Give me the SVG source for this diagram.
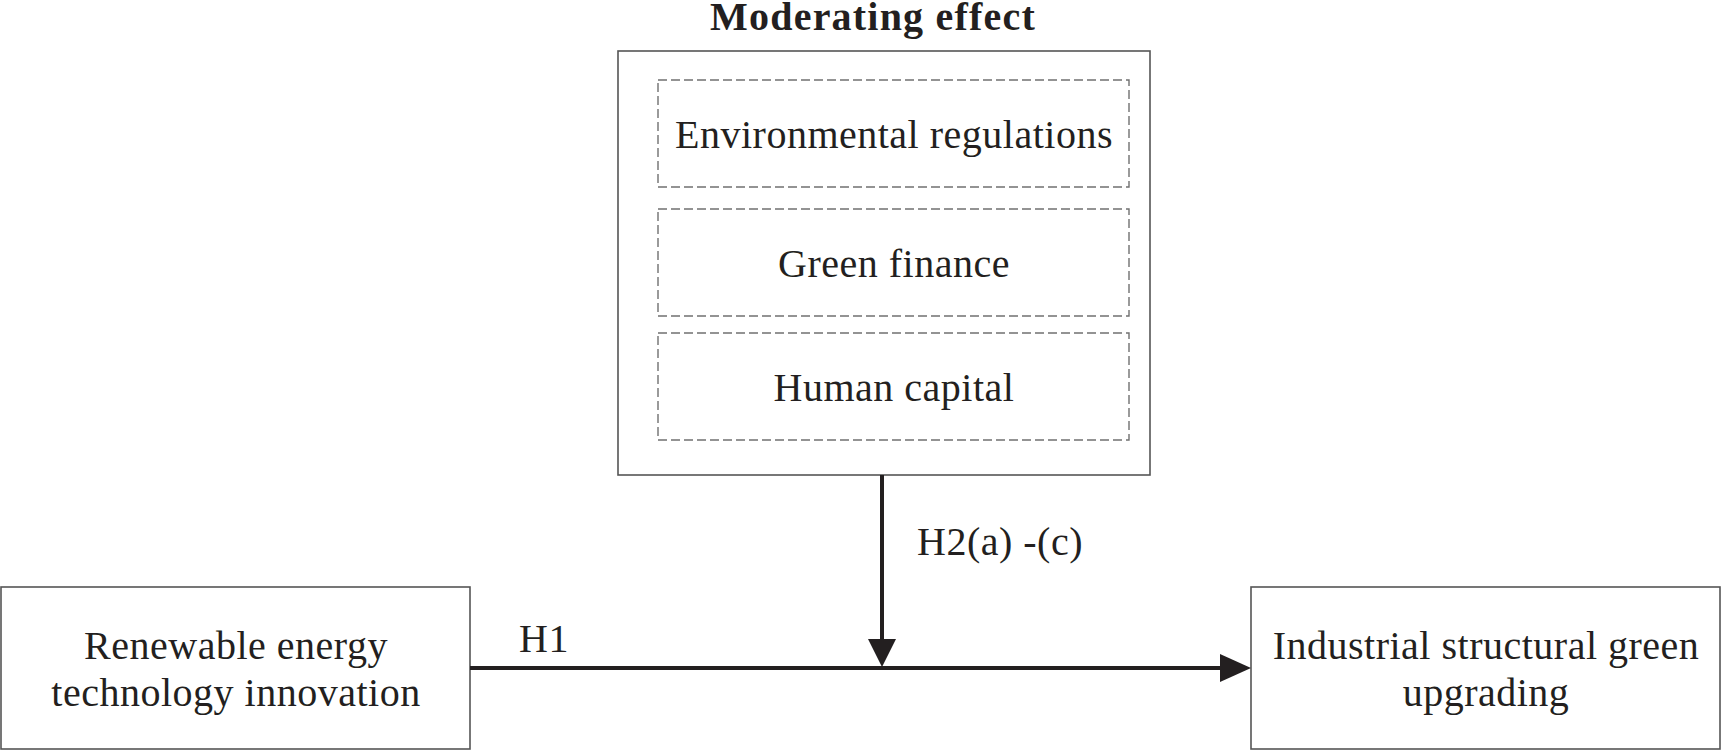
<svg xmlns="http://www.w3.org/2000/svg" width="1721" height="750" viewBox="0 0 1721 750">
<style>
  .t { font-family: "Liberation Serif", "Times New Roman", serif; font-size: 40px; letter-spacing: 0.5px; fill: #231f20; text-anchor: middle; }
  .title { font-family: "Liberation Serif", "Times New Roman", serif; font-size: 40px; font-weight: bold; letter-spacing: 1.2px; fill: #231f20; text-anchor: middle; }
  .box { fill: #ffffff; stroke: #555555; stroke-width: 1.6; }
  .dash { fill: none; stroke: #707070; stroke-width: 1.4; stroke-dasharray: 9 4; }
  .conn { stroke: #231f20; stroke-width: 4; fill: none; }
  .head { fill: #231f20; }
</style>
<rect width="1721" height="750" fill="#ffffff"/>
<g id="moderating">
  <text class="title" x="873" y="30">Moderating effect</text>
  <rect class="box" x="618" y="51" width="532" height="424"/>
  <g id="env-reg">
    <rect class="dash" x="658" y="80" width="471" height="107"/>
    <text class="t" x="894" y="148">Environmental regulations</text>
  </g>
  <g id="green-finance">
    <rect class="dash" x="658" y="209" width="471" height="107"/>
    <text class="t" x="894" y="277">Green finance</text>
  </g>
  <g id="human-capital">
    <rect class="dash" x="658" y="333" width="471" height="107"/>
    <text class="t" x="894" y="401">Human capital</text>
  </g>
</g>
<g id="renewable">
  <rect class="box" x="1" y="587" width="469" height="162"/>
  <text class="t" x="236" y="659">Renewable energy</text>
  <text class="t" x="236" y="706">technology innovation</text>
</g>
<g id="industrial">
  <rect class="box" x="1251" y="587" width="469" height="162"/>
  <text class="t" x="1486" y="659">Industrial structural green</text>
  <text class="t" x="1486" y="706">upgrading</text>
</g>
<g id="connectors">
  <line class="conn" x1="470" y1="668" x2="1222" y2="668"/>
  <polygon class="head" points="1220,654 1251,668 1220,682"/>
  <line class="conn" x1="882" y1="475" x2="882" y2="641"/>
  <polygon class="head" points="868,639 896,639 882,667"/>
  <text class="t" x="519" y="652" style="text-anchor:start">H1</text>
  <text class="t" x="917" y="555" style="text-anchor:start">H2(a) -(c)</text>
</g>
</svg>
